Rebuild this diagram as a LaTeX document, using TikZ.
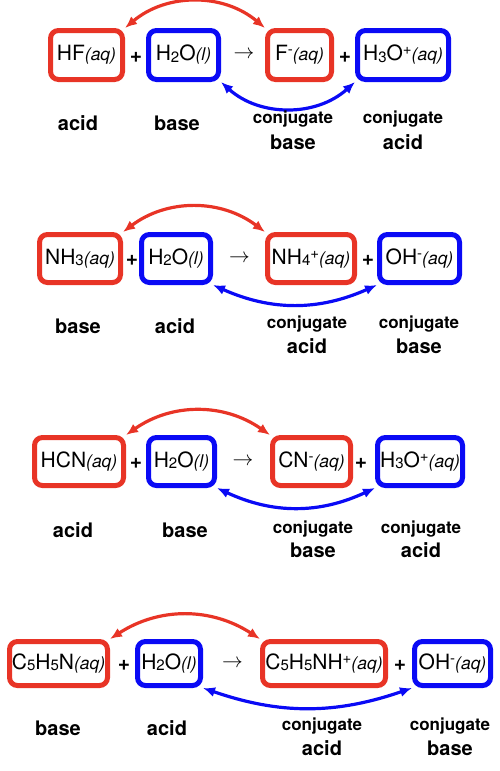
\documentclass[tikz,border=0pt]{standalone}
\usepackage{fontspec}
\setmainfont{TeX Gyre Heros}
\usetikzlibrary{arrows.meta}
\definecolor{cred}{RGB}{232,52,38}
\definecolor{cblue}{RGB}{10,10,245}
\newcommand{\sbs}[1]{\raisebox{-1.5pt}{\fontsize{15}{15}\selectfont #1}}
\newcommand{\sps}[1]{\raisebox{6pt}{\fontsize{15}{15}\selectfont #1}}
\newcommand{\st}[1]{{\fontsize{17.5}{17.5}\selectfont\itshape #1}}
\tikzset{
  chembox/.style={draw, line width=5pt, rounded corners=8pt, inner sep=0pt,
    text height=15pt, text depth=4pt, font=\fontsize{21}{21}\selectfont},
  redbox/.style={chembox, draw=cred},
  bluebox/.style={chembox, draw=cblue},
  sym/.style={inner sep=0pt, font=\fontsize{21}{21}\selectfont},
  plus/.style={inner sep=0pt, font=\fontsize{21}{21}\selectfont\bfseries},
  lab/.style={anchor=base, inner sep=0pt, font=\fontsize{20}{20}\selectfont\bfseries},
  conj/.style={anchor=base, inner sep=0pt, font=\fontsize{17}{17}\selectfont\bfseries},
  redarr/.style={draw=cred, line width=3.2pt, {Latex[length=12pt,width=10pt]}-{Latex[length=12pt,width=10pt]}},
  bluearr/.style={draw=cblue, line width=3.2pt, {Latex[length=12pt,width=10pt]}-{Latex[length=12pt,width=10pt]}}
}
\begin{document}
\begin{tikzpicture}[x=1pt,y=-1pt]
\useasboundingbox (0,0) rectangle (500,771);
% ---------- Row 1 ----------
\node[redbox, minimum width=72pt, minimum height=49pt] (r1a) at (86.5,55) {HF\st{(aq)}};
\node[plus] (r1p1) at (136,57) {+};
\node[bluebox, minimum width=70pt, minimum height=49pt] (r1b) at (183.5,55) {H\sbs{2}O\st{(l)}};
\node[sym] (r1r) at (244,55) {$\rightarrow$};
\node[redbox, minimum width=64pt, minimum height=49pt] (r1c) at (299.5,55) {F\sps{-}\st{(aq)}};
\node[plus] (r1p2) at (345,57) {+};
\node[bluebox, minimum width=91pt, minimum height=49pt] (r1d) at (403,55) {H\sbs{3}O\sps{+}\st{(aq)}};
\draw[redarr] (r1a.north east) to[bend left=40] (r1c.north west);
\draw[bluearr] (r1b.south east) to[bend right=42] (r1d.south west);
\node[lab] (r1la) at (78,130) {acid};
\node[lab] (r1lb) at (177,130) {base};
\node[conj] (r1lc) at (293,123) {conjugate};
\node[lab] (r1lc2) at (293,149) {base};
\node[conj] (r1ld) at (403,123) {conjugate};
\node[lab] (r1ld2) at (403,149) {acid};
% ---------- Row 2 ----------
\node[redbox, minimum width=81pt, minimum height=48pt] (r2a) at (80,258.5) {NH\sbs{3}\st{(aq)}};
\node[plus] (r2p1) at (132,260) {+};
\node[bluebox, minimum width=69pt, minimum height=48pt] (r2b) at (176,258.5) {H\sbs{2}O\st{(l)}};
\node[sym] (r2r) at (239.5,258.5) {$\rightarrow$};
\node[redbox, minimum width=87pt, minimum height=48pt] (r2c) at (311,258.5) {NH\sbs{4}\sps{+}\st{(aq)}};
\node[plus] (r2p2) at (368,260) {+};
\node[bluebox, minimum width=80pt, minimum height=48pt] (r2d) at (419.5,258.5) {OH\sps{-}\st{(aq)}};
\draw[redarr] (r2a.north east) to[bend left=37] (r2c.north west);
\draw[bluearr] (r2b.south east) to[bend right=24] (r2d.south west);
\node[lab] (r2la) at (78,333) {base};
\node[lab] (r2lb) at (175,333) {acid};
\node[conj] (r2lc) at (307,328) {conjugate};
\node[lab] (r2lc2) at (307,353) {acid};
\node[conj] (r2ld) at (419,328) {conjugate};
\node[lab] (r2ld2) at (419,353) {base};
% ---------- Row 3 ----------
\node[redbox, minimum width=89pt, minimum height=48pt] (r3a) at (79,461.5) {HCN\st{(aq)}};
\node[plus] (r3p1) at (136,463) {+};
\node[bluebox, minimum width=66pt, minimum height=48pt] (r3b) at (181.5,461.5) {H\sbs{2}O\st{(l)}};
\node[sym] (r3r) at (243,461.5) {$\rightarrow$};
\node[redbox, minimum width=78pt, minimum height=48pt] (r3c) at (311.5,461.5) {CN\sps{-}\st{(aq)}};
\node[plus] (r3p2) at (361,463) {+};
\node[bluebox, minimum width=85pt, minimum height=48pt] (r3d) at (420,461.5) {H\sbs{3}O\sps{+}\st{(aq)}};
\draw[redarr] (r3a.north east) to[bend left=35] (r3c.north west);
\draw[bluearr] (r3b.south east) to[bend right=25] (r3d.south west);
\node[lab] (r3la) at (73,537) {acid};
\node[lab] (r3lb) at (185,537) {base};
\node[conj] (r3lc) at (313,533) {conjugate};
\node[lab] (r3lc2) at (313,557) {base};
\node[conj] (r3ld) at (421,533) {conjugate};
\node[lab] (r3ld2) at (421,557) {acid};
% ---------- Row 4 ----------
\node[redbox, minimum width=98pt, minimum height=44pt] (r4a) at (58.5,663.5) {C\sbs{5}H\sbs{5}N\st{(aq)}};
\node[plus] (r4p1) at (124,665) {+};
\node[bluebox, minimum width=63pt, minimum height=44pt] (r4b) at (169,663.5) {H\sbs{2}O\st{(l)}};
\node[sym] (r4r) at (232.5,663.5) {$\rightarrow$};
\node[redbox, minimum width=123pt, minimum height=44pt] (r4c) at (324,663.5) {C\sbs{5}H\sbs{5}NH\sps{+}\st{(aq)}};
\node[plus] (r4p2) at (400,665) {+};
\node[bluebox, minimum width=76pt, minimum height=44pt] (r4d) at (452.5,663.5) {OH\sps{-}\st{(aq)}};
\draw[redarr] (r4a.north east) to[bend left=33] (r4c.north west);
\draw[bluearr] (r4b.south east) to[bend right=19] (r4d.south west);
\node[lab] (r4la) at (58,735) {base};
\node[lab] (r4lb) at (167,735) {acid};
\node[conj] (r4lc) at (322,730) {conjugate};
\node[lab] (r4lc2) at (322,755) {acid};
\node[conj] (r4ld) at (450,730) {conjugate};
\node[lab] (r4ld2) at (450,755) {base};
\end{tikzpicture}
\end{document}
